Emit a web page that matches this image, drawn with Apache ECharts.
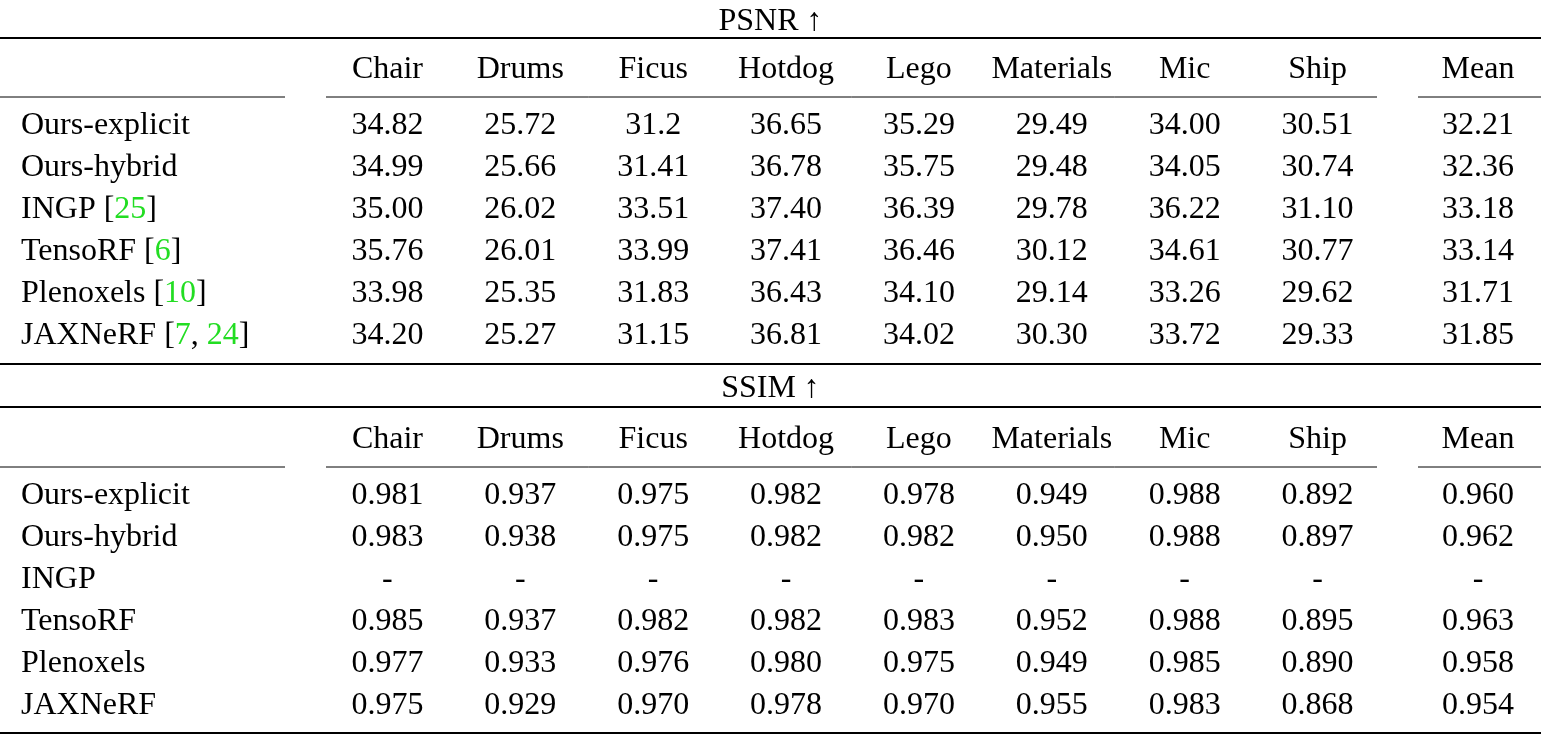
<!DOCTYPE html>
<html><head><meta charset="utf-8">
<script src="https://cdn.jsdelivr.net/npm/echarts@6/dist/echarts.min.js"></script>
<style>html,body{margin:0;padding:0;background:#fff}#c{width:1541px;height:736px}</style>
</head><body><div id="c"></div>
<script>
const scenes = ['Chair','Drums','Ficus','Hotdog','Lego','Materials','Mic','Ship'];
const meanCol = ['Mean'];
const psnrRows = ['Ours-explicit','Ours-hybrid','INGP [25]','TensoRF [6]','Plenoxels [10]','JAXNeRF [7, 24]'];
const ssimRows = ['Ours-explicit','Ours-hybrid','INGP','TensoRF','Plenoxels','JAXNeRF'];
const psnr = [
 ['34.82','25.72','31.2','36.65','35.29','29.49','34.00','30.51'],
 ['34.99','25.66','31.41','36.78','35.75','29.48','34.05','30.74'],
 ['35.00','26.02','33.51','37.40','36.39','29.78','36.22','31.10'],
 ['35.76','26.01','33.99','37.41','36.46','30.12','34.61','30.77'],
 ['33.98','25.35','31.83','36.43','34.10','29.14','33.26','29.62'],
 ['34.20','25.27','31.15','36.81','34.02','30.30','33.72','29.33']];
const psnrMean = ['32.21','32.36','33.18','33.14','31.71','31.85'];
const ssim = [
 ['0.981','0.937','0.975','0.982','0.978','0.949','0.988','0.892'],
 ['0.983','0.938','0.975','0.982','0.982','0.950','0.988','0.897'],
 ['-','-','-','-','-','-','-','-'],
 ['0.985','0.937','0.982','0.982','0.983','0.952','0.988','0.895'],
 ['0.977','0.933','0.976','0.980','0.975','0.949','0.985','0.890'],
 ['0.975','0.929','0.970','0.978','0.970','0.955','0.983','0.868']];
const ssimMean = ['0.960','0.962','-','0.963','0.958','0.954'];

const F = 'Liberation Serif', FS = 32, C = '#000';
const chart = echarts.init(document.getElementById('c'));
const grids = [], xAxes = [], yAxes = [], series = [];
function section(top, rows, vals, means) {
  const gi = grids.length;
  grids.push({left: 321, width: 1063, top: top, height: 252});
  grids.push({left: 1420, width: 116, top: top, height: 252});
  [[scenes, gi], [meanCol, gi + 1]].forEach(([cats, g]) => {
    xAxes.push({type: 'category', data: cats, gridIndex: g, position: 'top',
      axisLine: {show: false}, axisTick: {show: false},
      axisLabel: {interval: 0, margin: 19, fontFamily: F, fontSize: FS, color: C}});
    yAxes.push({type: 'category', data: rows, inverse: true, gridIndex: g,
      axisLine: {show: false}, axisTick: {show: false},
      axisLabel: g === gi ? {show: true, interval: 0, align: 'left', margin: 300, fontFamily: F, fontSize: FS, color: C,
        formatter: v => v.replace(/\[(.*)\]/, (m, n) => '[' + n.split(', ').map(x => '{g|' + x + '}').join(', ') + ']'),
        rich: {g: {color: '#22dd22', fontFamily: F, fontSize: FS}}} : {show: false}});
  });
  const ax = xAxes.length - 2;
  const d1 = [];
  vals.forEach((row, r) => row.forEach((v, c) => d1.push([scenes[c], rows[r], v])));
  const d2 = means.map((v, r) => ['Mean', rows[r], v]);
  [[d1, ax], [d2, ax + 1]].forEach(([d, a]) => series.push({type: 'scatter', xAxisIndex: a, yAxisIndex: a,
    symbolSize: 1, itemStyle: {opacity: 0}, data: d, silent: true,
    label: {show: true, position: 'inside', opacity: 1, formatter: p => p.value[2], fontFamily: F, fontSize: FS, color: C}}));
}
section(105, psnrRows, psnr, psnrMean);
section(475, ssimRows, ssim, ssimMean);

function hl(y, x1, x2, w) { return {type: 'line', shape: {x1: x1, y1: y, x2: x2, y2: y}, style: {stroke: '#000', lineWidth: w}}; }
chart.setOption({
  animation: false,
  title: [
    {text: 'PSNR ↑', left: 'center', top: 1, textStyle: {fontFamily: F, fontSize: FS, fontWeight: 'normal', color: C}},
    {text: 'SSIM ↑', left: 'center', top: 368, textStyle: {fontFamily: F, fontSize: FS, fontWeight: 'normal', color: C}}],
  grid: grids, xAxis: xAxes, yAxis: yAxes, series: series,
  graphic: [hl(38, 0, 1541, 2), hl(97, 0, 285, 1), hl(97, 326, 1377, 1), hl(97, 1418, 1541, 1),
    hl(364, 0, 1541, 2), hl(407, 0, 1541, 2), hl(467, 0, 285, 1), hl(467, 326, 1377, 1), hl(467, 1418, 1541, 1),
    hl(733, 0, 1541, 2)]
});
</script></body></html>
